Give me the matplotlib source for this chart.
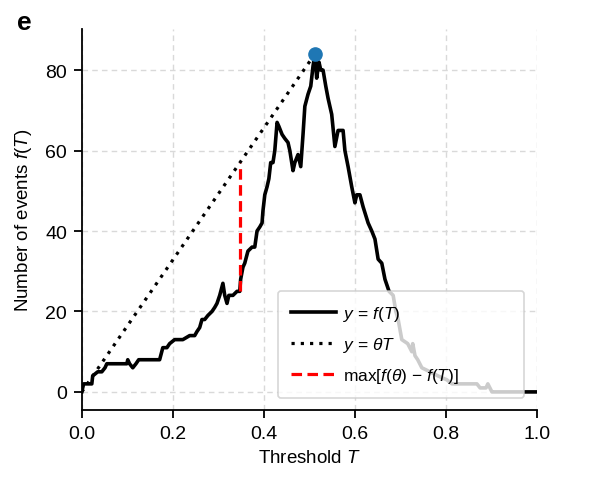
import matplotlib
matplotlib.use("Agg")
import matplotlib.pyplot as plt
import numpy as np

plt.rcParams['font.family'] = ['Liberation Sans', 'DejaVu Sans']
plt.rcParams['mathtext.fontset'] = 'custom'
plt.rcParams['mathtext.rm'] = 'Liberation Sans'
plt.rcParams['mathtext.it'] = 'Liberation Sans:italic'
plt.rcParams['mathtext.bf'] = 'Liberation Sans:bold'

# ---- data ----
T_vals = [0.000, 0.004, 0.022, 0.024, 0.035, 0.044, 0.051, 0.055, 0.099, 0.101,
          0.105, 0.112, 0.119, 0.125, 0.171, 0.178, 0.187, 0.193, 0.204, 0.222,
          0.237, 0.248, 0.253, 0.259, 0.264, 0.270, 0.277, 0.286, 0.292, 0.297,
          0.303, 0.310, 0.314, 0.319, 0.323, 0.332, 0.341, 0.347, 0.349, 0.354,
          0.358, 0.365, 0.374, 0.380, 0.385, 0.391, 0.396, 0.398, 0.402, 0.407,
          0.411, 0.415, 0.420, 0.424, 0.429, 0.433, 0.440, 0.446, 0.453, 0.457,
          0.464, 0.468, 0.475, 0.481, 0.486, 0.490, 0.497, 0.503, 0.508, 0.512,
          0.516, 0.521, 0.525, 0.530, 0.536, 0.541, 0.545, 0.549, 0.556, 0.563,
          0.574, 0.578, 0.585, 0.593, 0.600, 0.604, 0.611, 0.618, 0.629, 0.637,
          0.644, 0.651, 0.659, 0.666, 0.675, 0.684, 0.690, 0.695, 0.703, 0.716,
          0.725, 0.727, 0.732, 0.738, 0.747, 0.765, 0.782, 0.802, 0.813, 0.868,
          0.875, 0.888, 0.892, 0.901, 0.903, 1.000]
f_vals = [0, 2, 2, 4, 5, 5, 6, 7, 7, 8,
          7, 6, 7, 8, 8, 11, 11, 12, 13, 13,
          14, 14, 15, 16, 18, 18, 19, 20, 21, 22,
          24, 27, 24, 22, 24, 24, 25, 25, 28, 31,
          32, 35, 36, 36, 40, 41, 42, 45, 49, 51,
          53, 57, 57, 60, 67, 66, 64, 63, 62, 60,
          55, 57, 59, 56, 64, 71, 74, 76, 81, 84,
          78, 82, 80, 80, 76, 73, 71, 69, 61, 65,
          65, 60, 56, 51, 47, 49, 49, 46, 42, 40,
          38, 33, 32, 28, 25, 24, 20, 18, 13, 12,
          10, 12, 9, 8, 6, 5, 4, 3, 2, 2,
          1, 1, 2, 0, 0, 0]

T_peak = 0.512     # theta location (max of f)
f_peak = 84
T_gap = 0.347      # T where theta*T - f(T) is maximal
f_gap = 25

theta_slope = f_peak / T_peak

x_ticks = [0.0, 0.2, 0.4, 0.6, 0.8, 1.0]
x_ticklabels = ['0.0', '0.2', '0.4', '0.6', '0.8', '1.0']
y_ticks = [0, 20, 40, 60, 80]

# ---- figure ----
fig = plt.figure(figsize=(5.97, 4.81), dpi=100)
ax = fig.add_axes([0.137, 0.1455, 0.7625, 0.792])

ax.plot(T_vals, f_vals, color='black', lw=2.6, label=r'$y$ = $f(T)$', zorder=3)
ax.plot([0, T_peak], [0, theta_slope * T_peak], color='black', lw=2.3,
        linestyle=(0, (1, 1.9)), label=r'$y$ = $\theta T$', zorder=3)
ax.plot([T_gap, T_gap], [f_gap, theta_slope * T_gap], color='#ff0000', lw=2.3,
        linestyle=(0, (3.3, 1.7)), label=r'max[$f(\theta)$ $-$ $f(T)$]', zorder=3)
ax.plot([T_peak], [f_peak], 'o', color='#1f77b4', markersize=9.5, zorder=4)

ax.set_xlim(0, 1.0)
ax.set_ylim(-4.5, 90.2)
ax.set_xticks(x_ticks)
ax.set_xticklabels(x_ticklabels)
ax.set_yticks(y_ticks)

ax.grid(True, color='#d9d9d9', linestyle=(0, (4, 3)), lw=1.0, zorder=0)
ax.set_axisbelow(True)

for s in ['top', 'right']:
    ax.spines[s].set_visible(False)
for s in ['left', 'bottom']:
    ax.spines[s].set_linewidth(1.3)

ax.tick_params(axis='both', direction='out', length=5.5, width=1.3, labelsize=14,
               pad=5)

ax.set_xlabel(r'Threshold $T$', fontsize=13.5, labelpad=5)
ax.set_ylabel(r'Number of events $f(T)$', fontsize=13.5, labelpad=8)

leg = ax.legend(loc='lower left', bbox_to_anchor=(0.431, 0.0315, 0.541, 0.2835),
                mode='expand', borderaxespad=0,
                fontsize=12.5, handlelength=2.6, handletextpad=0.4,
                labelspacing=0.7, borderpad=0.75,
                framealpha=0.8, edgecolor='#cccccc', fancybox=True)
leg.get_frame().set_linewidth(1.2)

fig.text(0.028, 0.938, 'e', fontsize=19, fontweight='bold', va='baseline')

fig.savefig('out.png', dpi=100)
